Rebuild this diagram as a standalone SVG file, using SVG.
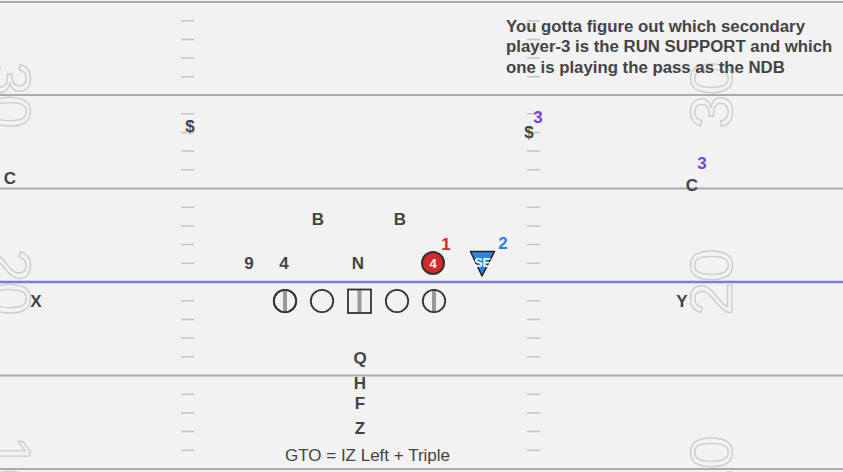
<svg xmlns="http://www.w3.org/2000/svg" width="843" height="472" viewBox="0 0 843 472">
<defs>
<style>
.yl{stroke:#ababab;stroke-width:2;fill:none}
.tk{stroke:#c4c4c4;stroke-width:1.5}
.num{font-family:"Liberation Sans",Arial,sans-serif;font-size:60px;fill:none;stroke:#cdcdcd;stroke-width:1.4;text-anchor:middle}
.lb{font-family:"Liberation Sans",Arial,sans-serif;font-size:17px;font-weight:bold;fill:#444;text-anchor:middle}
.ol{fill:none;stroke:#333;stroke-width:1.8}
.bar{stroke:#999;stroke-width:4}
</style>
</defs>
<rect width="843" height="472" fill="#f2f2f2"/>
<g id="field">
<line class="yl" x1="0" y1="2" x2="843" y2="2"/>
<line class="yl" x1="0" y1="95" x2="843" y2="95"/>
<line class="yl" x1="0" y1="188.5" x2="843" y2="188.5"/>
<line class="yl" x1="0" y1="375.5" x2="843" y2="375.5"/>
<line class="yl" x1="0" y1="469" x2="843" y2="469"/>
<g class="tk">
<path d="M181 20.7h13M181 39.4h13M181 58.1h13M181 76.8h13M181 113.7h13M181 132.4h13M181 151.1h13M181 169.8h13M181 207.2h13M181 225.9h13M181 244.6h13M181 263.3h13M181 300.7h13M181 319.4h13M181 338.1h13M181 356.8h13M181 394.2h13M181 412.9h13M181 431.6h13M181 450.3h13"/>
<path d="M527 20.7h13M527 39.4h13M527 58.1h13M527 76.8h13M527 113.7h13M527 132.4h13M527 151.1h13M527 169.8h13M527 207.2h13M527 225.9h13M527 244.6h13M527 263.3h13M527 300.7h13M527 319.4h13M527 338.1h13M527 356.8h13M527 394.2h13M527 412.9h13M527 431.6h13M527 450.3h13"/>
</g>
<text class="num" transform="translate(-11,95) rotate(90)">30</text>
<text class="num" transform="translate(-11,282) rotate(90)">20</text>
<text class="num" transform="translate(-11,469) rotate(90)">10</text>
<text class="num" transform="translate(732,95) rotate(-90)">30</text>
<text class="num" transform="translate(732,282) rotate(-90)">20</text>
<text class="num" transform="translate(732,469) rotate(-90)">10</text>
<line x1="0" y1="282" x2="843" y2="282" stroke="#7b7be0" stroke-width="2.5"/>
</g>
<g id="connectors"/>
<g id="note"><text font-family="'Liberation Sans',Arial,sans-serif" font-size="16.8" font-weight="bold" fill="#444"><tspan x="506" y="32">You gotta figure out which secondary</tspan><tspan x="506" y="52.3">player-3 is the RUN SUPPORT and which</tspan><tspan x="506" y="72.6">one is playing the pass as the NDB</tspan></text></g>
<g id="C-left"><text class="lb" x="10" y="184">C</text></g>
<g id="S-left"><text class="lb" x="190" y="132">$</text></g>
<g id="S-right"><text class="lb" x="529" y="138">$</text></g>
<g id="n3a"><text class="lb" x="538" y="123" fill="#7b3fe0" style="fill:#7b3fe0">3</text></g>
<g id="n3b"><text class="lb" x="702" y="169" style="fill:#7b3fe0">3</text></g>
<g id="C-right"><text class="lb" x="692" y="191">C</text></g>
<g id="B1"><text class="lb" x="318" y="225">B</text></g>
<g id="B2"><text class="lb" x="400" y="225">B</text></g>
<g id="D9"><text class="lb" x="249" y="269">9</text></g>
<g id="D4"><text class="lb" x="284" y="269">4</text></g>
<g id="N"><text class="lb" x="358" y="269">N</text></g>
<g id="R4"><circle cx="433" cy="263" r="11" fill="#d22a2a" stroke="#333" stroke-width="2"/><text class="lb" x="433" y="268" style="fill:#fff;font-size:13px">4</text></g>
<g id="L1"><text class="lb" x="446" y="250" style="fill:#d22a2a">1</text></g>
<g id="SE"><polygon points="470.5,251.5 494.5,251.5 482,276" fill="#2a85e8" stroke="#222" stroke-width="1.5" stroke-linejoin="round"/><text class="lb" x="482.5" y="267" style="fill:#fff;font-size:12.5px">SE</text></g>
<g id="L2"><text class="lb" x="503" y="249" style="fill:#2a7de1">2</text></g>
<g id="X"><text class="lb" x="36" y="307">X</text></g>
<g id="Y"><text class="lb" x="682" y="307">Y</text></g>
<g id="LT"><circle class="ol" cx="285" cy="301" r="11.2"/><line class="bar" x1="285" y1="290" x2="285" y2="312"/><circle class="ol" cx="285" cy="301" r="11.2"/></g>
<g id="LG"><circle class="ol" cx="322" cy="301" r="11.2"/></g>
<g id="OC"><line class="bar" x1="359.5" y1="289.5" x2="359.5" y2="312.5"/><rect class="ol" x="348" y="289.5" width="23" height="23.5"/></g>
<g id="RG"><circle class="ol" cx="397" cy="301" r="11.2"/></g>
<g id="RT"><line class="bar" x1="434" y1="290" x2="434" y2="312"/><circle class="ol" cx="434" cy="301" r="11.2"/></g>
<g id="Q"><text class="lb" x="360" y="364">Q</text></g>
<g id="H"><text class="lb" x="360" y="389">H</text></g>
<g id="F"><text class="lb" x="360" y="409">F</text></g>
<g id="Z"><text class="lb" x="360" y="434">Z</text></g>
<g id="caption"><text x="367.5" y="461" font-family="'Liberation Sans',Arial,sans-serif" font-size="17" fill="#444" text-anchor="middle">GTO = IZ Left + Triple</text></g>
</svg>
